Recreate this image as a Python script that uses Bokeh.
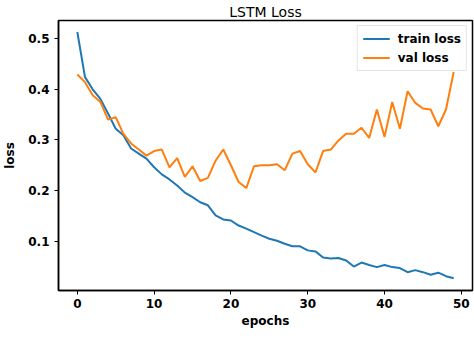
from bokeh.plotting import figure
from bokeh.models import Range1d, FixedTicker, Legend, LegendItem
from bokeh.embed import file_html
from bokeh.resources import INLINE

epochs = list(range(50))
train_loss = [0.513, 0.424, 0.400, 0.381, 0.352, 0.322, 0.309, 0.283, 0.273, 0.263,
              0.246, 0.232, 0.222, 0.210, 0.196, 0.187, 0.177, 0.171, 0.151, 0.143,
              0.141, 0.131, 0.125, 0.118, 0.111, 0.105, 0.101, 0.095, 0.090, 0.090,
              0.082, 0.080, 0.068, 0.066, 0.067, 0.062, 0.050, 0.058, 0.053, 0.049,
              0.053, 0.049, 0.047, 0.039, 0.043, 0.039, 0.034, 0.038, 0.031, 0.027]
val_loss = [0.429, 0.414, 0.388, 0.375, 0.340, 0.345, 0.312, 0.293, 0.281, 0.269,
            0.278, 0.281, 0.246, 0.264, 0.227, 0.248, 0.219, 0.225, 0.259, 0.281,
            0.250, 0.217, 0.205, 0.248, 0.250, 0.250, 0.252, 0.240, 0.273, 0.278,
            0.252, 0.236, 0.278, 0.281, 0.299, 0.312, 0.312, 0.324, 0.304, 0.360,
            0.306, 0.375, 0.322, 0.396, 0.373, 0.362, 0.360, 0.327, 0.360, 0.434]
x_ticks = [0, 10, 20, 30, 40, 50]
y_ticks = [0.1, 0.2, 0.3, 0.4, 0.5]

FONT = "DejaVu Sans"

p = figure(width=474, height=353, output_backend="svg", toolbar_location=None,
           x_range=Range1d(-2.45, 51.45), y_range=Range1d(0.0028, 0.5357),
           title="LSTM Loss", min_border_left=57, min_border_right=2,
           min_border_top=0, min_border_bottom=63)

p.title.align = "center"
p.title.text_font = FONT
p.title.text_font_size = "14px"
p.title.text_font_style = "normal"
p.title.text_color = "black"
p.title.standoff = 2
p.title.offset = 0

r1 = p.line(epochs, train_loss, line_color="#1f77b4", line_width=2)
r2 = p.line(epochs, val_loss, line_color="#ff7f0e", line_width=2)

p.xgrid.visible = False
p.ygrid.visible = False
p.outline_line_color = "black"
p.outline_line_width = 1.5
p.background_fill_color = "white"
p.border_fill_color = "white"

p.xaxis.ticker = FixedTicker(ticks=x_ticks)
p.yaxis.ticker = FixedTicker(ticks=y_ticks)
p.xaxis.axis_label = "epochs"
p.yaxis.axis_label = "loss"
for ax in (p.xaxis, p.yaxis):
    ax.axis_line_color = "black"
    ax.axis_line_width = 1.5
    ax.major_tick_line_color = "black"
    ax.major_tick_out = 4
    ax.major_tick_in = 0
    ax.minor_tick_line_color = None
    ax.major_label_text_font = FONT
    ax.major_label_text_font_size = "12px"
    ax.major_label_text_font_style = "bold"
    ax.major_label_text_color = "black"
    ax.axis_label_text_font = FONT
    ax.axis_label_text_font_size = "12px"
    ax.axis_label_text_font_style = "bold"
    ax.axis_label_text_color = "black"
p.xaxis.major_label_standoff = 4
p.xaxis.axis_label_standoff = 3
p.yaxis.major_label_standoff = 5
p.yaxis.axis_label_standoff = 8

legend = Legend(items=[LegendItem(label="train loss", renderers=[r1]),
                       LegendItem(label="val loss", renderers=[r2])],
                location="top_right")
legend.label_text_font = FONT
legend.label_text_font_size = "12px"
legend.label_text_font_style = "bold"
legend.label_text_color = "black"
legend.glyph_width = 27
legend.glyph_height = 15
legend.label_height = 15
legend.label_standoff = 8
legend.spacing = 4
legend.padding = 5
legend.margin = 5
legend.border_line_color = "#cccccc"
legend.border_line_width = 1
legend.background_fill_alpha = 0.8
p.add_layout(legend)

open("out.html", "w").write(file_html(p, INLINE))
